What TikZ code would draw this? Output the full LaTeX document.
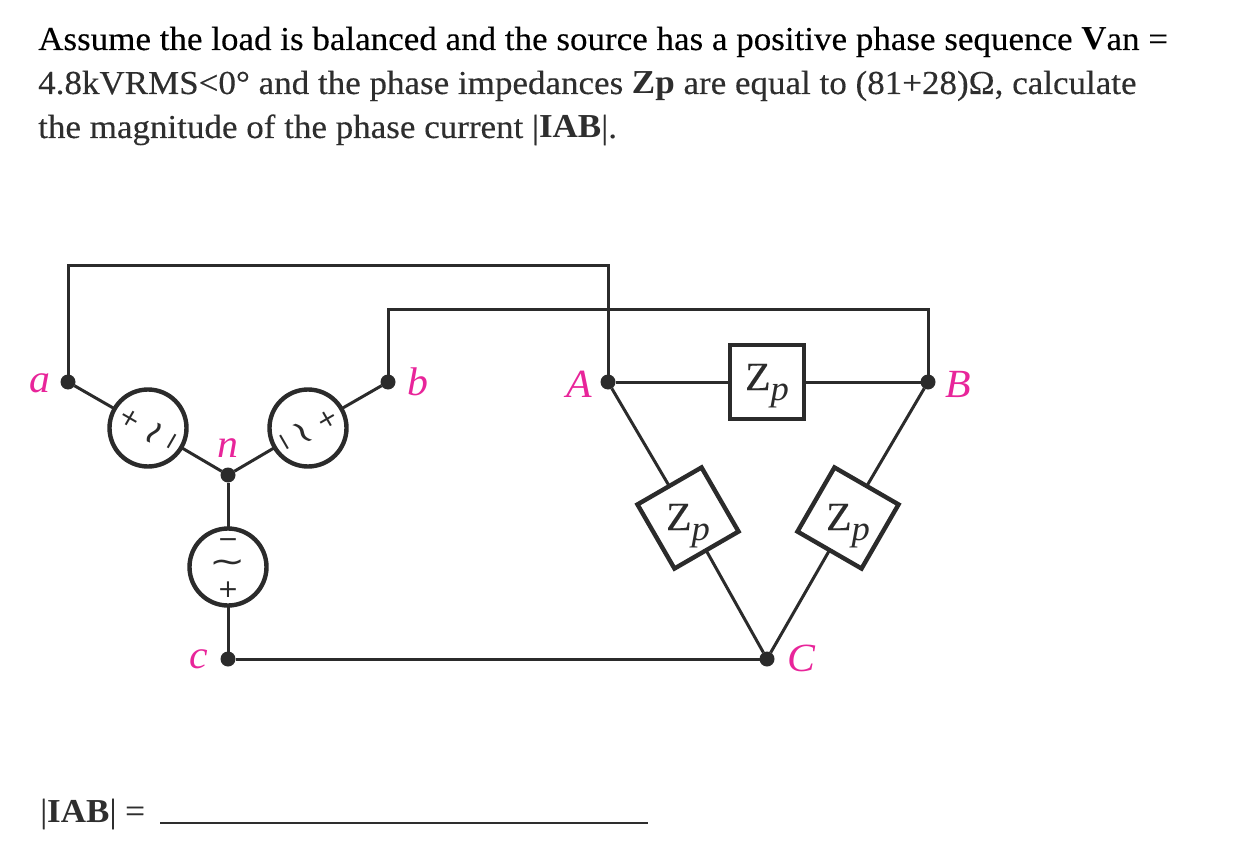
\documentclass[tikz,border=0pt]{standalone}
\usepackage{fontspec}
\setmainfont{Liberation Serif}[FakeStretch=1.045,UprightFeatures={FakeBold=0.25}]
\newfontfamily\markfont{DejaVu Sans}
\definecolor{wirecol}{HTML}{2B2B2B}
\definecolor{labelpink}{HTML}{E8259A}
\definecolor{txtgrey}{HTML}{2E2E2E}
\tikzset{
  wire/.style={draw=wirecol,line width=3pt},
  junction/.style={circle,fill=wirecol,draw=none,minimum size=15pt,inner sep=0pt,outer sep=0pt},
  sourcecircle/.style={circle,draw=wirecol,line width=4.4pt,fill=white,minimum size=77pt,inner sep=0pt,outer sep=0pt},
  zbox/.style={rectangle,draw=wirecol,line width=4.4pt,fill=white,minimum size=74pt,inner sep=0pt,outer sep=0pt},
  zlabel/.style={anchor=base,font=\fontsize{40}{40}\selectfont,text=wirecol,inner sep=0pt},
  nodelabel/.style={anchor=base,font=\fontsize{40}{40}\selectfont\itshape,text=labelpink,inner sep=0pt},
  sourcemark/.style={font=\fontsize{25}{25}\selectfont\markfont,text=wirecol,inner sep=0pt},
  sourcewave/.style={font=\fontsize{32}{32}\selectfont\markfont,text=wirecol,inner sep=0pt,xscale=1.35},
  bodytext/.style={anchor=base west,inner sep=0pt,font=\fontsize{33.5}{33.5}\selectfont,text=txtgrey},
}
\newcommand{\zp}{Z\raisebox{-0.25em}{\fontsize{35}{35}\selectfont\itshape p}}
\begin{document}
\begin{tikzpicture}[x=1pt,y=-1pt]
\useasboundingbox (0,0) rectangle (1240,856);
% text
\node[bodytext,text=black] (l1) at (38,50) {Assume the load is balanced and the source has a positive phase sequence \textbf{V}an =};
\node[bodytext] (l2) at (38,94) {4.8kVRMS<0° and the phase impedances \textbf{Zp} are equal to (81+28)Ω, calculate};
\node[bodytext] (l3) at (38,138) {the magnitude of the phase current |\textbf{IAB}|.};
\node[bodytext] (ans) at (40,822) {|\textbf{IAB}| =};
\coordinate (blank1) at (160,823);
\coordinate (blank2) at (648,823);
\draw[draw=txtgrey,line width=1.6pt] (blank1) -- (blank2);
% junctions
\node[junction] (a) at (68,382) {};
\node[junction] (b) at (388,382) {};
\node[junction] (n) at (228,475) {};
\node[junction] (c) at (228,659) {};
\node[junction] (A) at (608,382) {};
\node[junction] (B) at (928,382) {};
\node[junction] (C) at (767,659) {};
% sources and boxes
\node[sourcecircle] (sa) at (148,428) {};
\node[sourcecircle] (sb) at (308,428) {};
\node[sourcecircle] (sc) at (228,567) {};
\node[zbox] (zab) at (767,382) {};
\node[zbox,rotate=30] (zac) at (688,518) {};
\node[zbox,rotate=-30] (zbc) at (848,518) {};
% routing corners
\coordinate (ta) at (68,265);
\coordinate (tA) at (608,265);
\coordinate (tb) at (388,309);
\coordinate (tB) at (928,309);
% connectors
\draw[wire] (a.center) -- (ta) -- (tA) -- (A.center);
\draw[wire] (b.center) -- (tb) -- (tB) -- (B.center);
\draw[wire] (a) -- (sa);
\draw[wire] (sa) -- (n);
\draw[wire] (b) -- (sb);
\draw[wire] (sb) -- (n);
\draw[wire] (n) -- (sc);
\draw[wire] (sc) -- (c);
\draw[wire] (c) -- (C);
\draw[wire] (A) -- (zab);
\draw[wire] (zab) -- (B);
\draw[wire] (A) -- (zac);
\draw[wire] (zac) -- (C);
\draw[wire] (B) -- (zbc);
\draw[wire] (zbc) -- (C);
% source marks
\node[sourcemark] (sc1) at (228,543) {−};
\node[sourcewave] (sc2) at (228,566) {∼};
\node[sourcemark] (sc3) at (228,590) {+};
\node[sourcemark,rotate=-120] (sa1) at (130,418) {+};
\node[sourcewave,rotate=-120] (sa2) at (150,431) {∼};
\node[sourcemark,rotate=-120] (sa3) at (169,440) {−};
\node[sourcemark,rotate=120] (sb1) at (327,419) {+};
\node[sourcewave,rotate=120] (sb2) at (307,431) {∼};
\node[sourcemark,rotate=120] (sb3) at (287,441) {−};
% impedance labels
\node[zlabel] (zabt) at (767,390) {\zp};
\node[zlabel] (zact) at (688,530) {\zp};
\node[zlabel] (zbct) at (848,530) {\zp};
% node labels
\node[nodelabel] (la) at (40,392) {a};
\node[nodelabel] (lb) at (418,395) {b};
\node[nodelabel] (ln) at (228,457) {n};
\node[nodelabel] (lc) at (199,668) {c};
\node[nodelabel] (lA) at (579,397) {A};
\node[nodelabel] (lB) at (958,397) {B};
\node[nodelabel] (lC) at (801,671) {C};
\end{tikzpicture}
\end{document}
